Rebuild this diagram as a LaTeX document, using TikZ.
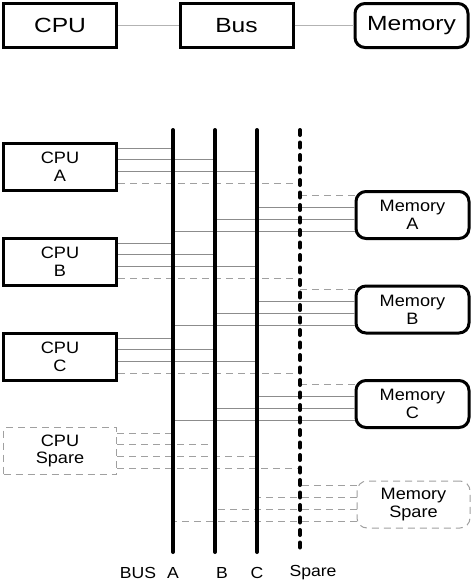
\documentclass[tikz,border=0pt]{standalone}
\usepackage{fontspec}
\setmainfont{Liberation Sans}
\newfontfamily\topfont[FakeStretch=1.2]{Liberation Sans}
\newfontfamily\boxfont[FakeStretch=1.1]{Liberation Sans}
\definecolor{wiregray}{HTML}{8C8C8C}
\definecolor{dashgray}{HTML}{A0A0A0}
\begin{document}
\begin{tikzpicture}[x=1pt,y=-1pt,
  topbox/.style={draw,line width=3pt,minimum width=113pt,minimum height=44pt,inner sep=0pt,font=\topfont\fontsize{20.5}{22}\selectfont},
  cpubox/.style={draw,line width=3pt,minimum width=113pt,minimum height=47pt,inner sep=0pt,align=center,font=\boxfont\fontsize{16.5}{17.7}\selectfont},
  membox/.style={cpubox,rounded corners=10pt},
  sparecpu/.style={cpubox,draw=dashgray,line width=1pt,dash pattern=on 7pt off 5pt},
  sparemem/.style={sparecpu,rounded corners=10pt},
  topwire/.style={draw=dashgray!80,line width=1pt},
  wire/.style={draw=wiregray,line width=0.9pt},
  dwire/.style={draw=dashgray,line width=0.9pt,dash pattern=on 7pt off 5pt},
  busline/.style={line width=4pt,line cap=round},
  sparebus/.style={line width=4pt,line cap=round,dash pattern=on 5pt off 7.5pt},
  lbl/.style={inner sep=0pt,font=\boxfont\fontsize{16}{17}\selectfont}
]
\useasboundingbox (0,0) rectangle (474,584);
% top row
\node[topbox] (tcpu) at (60,25.5) {CPU};
\node[topbox] (tbus) at (236.5,25.5) {Bus};
\node[topbox,rounded corners=10pt] (tmem) at (411.5,25.5) {Memory};
\draw[topwire] (tcpu) -- (tbus);
\draw[topwire] (tbus) -- (tmem);
% bus lines
\coordinate (busA) at (173,130); \coordinate (busAe) at (173,552);
\coordinate (busB) at (215,130); \coordinate (busBe) at (215,552);
\coordinate (busC) at (257,130); \coordinate (busCe) at (257,552);
\coordinate (busS) at (300,130); \coordinate (busSe) at (300,552);
% boxes
\node[cpubox] (cpuA) at (60,167) {CPU\\A};
\node[cpubox] (cpuB) at (60,262) {CPU\\B};
\node[cpubox] (cpuC) at (60,357) {CPU\\C};
\node[sparecpu] (cpuS) at (60,451) {CPU\\Spare};
\node[membox] (memA) at (412.5,215) {Memory\\A};
\node[membox] (memB) at (412.5,309.5) {Memory\\B};
\node[membox] (memC) at (412.5,404) {Memory\\C};
\node[sparemem] (memS) at (413.5,504.5) {Memory\\Spare};
% wire end points
\foreach \n in {cpuA,cpuB,cpuC,cpuS}{
  \coordinate (\n1) at ([yshift=-6pt]\n.north east);
  \coordinate (\n2) at ([yshift=-17.7pt]\n.north east);
  \coordinate (\n3) at ([yshift=-29.3pt]\n.north east);
  \coordinate (\n4) at ([yshift=-41pt]\n.north east);
}
\foreach \n in {memA,memB,memC,memS}{
  \coordinate (\n1) at ([yshift=-5pt]\n.north west);
  \coordinate (\n2) at ([yshift=-17.3pt]\n.north west);
  \coordinate (\n3) at ([yshift=-29.3pt]\n.north west);
  \coordinate (\n4) at ([yshift=-41pt]\n.north west);
}
\foreach \n in {cpuA,cpuB,cpuC}{
  \draw[wire] (\n1) -- (\n1 -| busA);
  \draw[wire] (\n2) -- (\n2 -| busB);
  \draw[wire] (\n3) -- (\n3 -| busC);
  \draw[dwire] (\n4) -- (\n4 -| busS);
}
\draw[dwire] (cpuS1) -- (cpuS1 -| busA);
\draw[dwire] (cpuS2) -- (cpuS2 -| busB);
\draw[dwire] (cpuS3) -- (cpuS3 -| busC);
\draw[dwire] (cpuS4) -- (cpuS4 -| busS);
\foreach \n in {memA,memB,memC}{
  \draw[dwire] (\n1) -- (\n1 -| busS);
  \draw[wire] (\n2) -- (\n2 -| busC);
  \draw[wire] (\n3) -- (\n3 -| busB);
  \draw[wire] (\n4) -- (\n4 -| busA);
}
\draw[dwire] (memS1) -- (memS1 -| busS);
\draw[dwire] (memS2) -- (memS2 -| busC);
\draw[dwire] (memS3) -- (memS3 -| busB);
\draw[dwire] (memS4) -- (memS4 -| busA);
% bus lines on top
\draw[busline] (busA) -- (busAe);
\draw[busline] (busB) -- (busBe);
\draw[busline] (busC) -- (busCe);
\draw[sparebus] (busS) -- (busSe);
% labels
\node[lbl] (lbus) at (138,573) {BUS};
\node[lbl] (la) at (173,573) {A};
\node[lbl] (lb) at (222,573) {B};
\node[lbl] (lc) at (257,573) {C};
\node[lbl] (ls) at (313,573) {Spare};
\end{tikzpicture}
\end{document}
